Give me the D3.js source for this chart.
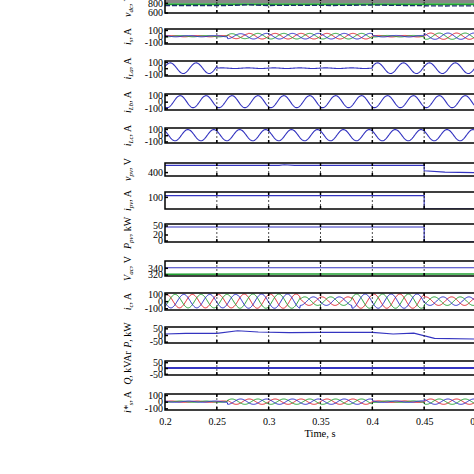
<!DOCTYPE html><html><head><meta charset="utf-8">
<script src="https://d3js.org/d3.v7.min.js"></script>
<style>body{margin:0;background:#fff}svg{font-family:"Liberation Serif",serif}</style></head><body>
<svg id="c" width="474" height="474"></svg>
<script>
// x axis
const xTicks=[0.2,0.25,0.3,0.35,0.4,0.45,0.5];
const xTickLabels=["0.2","0.25","0.3","0.35","0.4","0.45","0.5"];
// panels
const panelNames=["vdc","is","iLa","iLb","iLc","vpv","ipv","Ppv","Vac","ic","P","Q","istar"];
const panelLabels=[["v","dc",", V"],["i","s",", A"],["i","La",", A"],["i","Lb",", A"],["i","Lc",", A"],["v","pv",", V"],["i","pv",", A"],["P","pv",", kW"],["V","ac",", V"],["i","c",", A"],["P","",", kW"],["Q","",", kVAr"],["i*","s",", A"]];
const panelDomains=[[590,900],[-125,115],[-125,115],[-125,115],[-125,115],[370,470],[0,140],[-5,55],[316,360],[-125,115],[-60,60],[-60,60],[-125,115]];
const panelTicks=[[800,600],[100,0,-100],[100,0,-100],[100,0,-100],[100,0,-100],[400],[100],[50,20,0],[340,320],[100,0,-100],[50,0,-50],[50,0,-50],[100,0,-100]];
const panelTop=[-2,29,61,94,128,163,192,224,261,293,327,361,394];
const panelBot=[13,44,76,110,143,176,209,242,276,310,343,375,410];
// piecewise series [t, value]
const vdcGreen=[[0.2,770],[0.5,770]];
const vdcDash=[[0.2,745],[0.26,745],[0.28,760],[0.3,745],[0.33,750],[0.36,745],[0.4,755],[0.42,748],[0.45,740],[0.47,735],[0.5,738]];
const vpvLine=[[0.2,452],[0.31,452],[0.315,456],[0.325,452],[0.45,452],[0.45,410],[0.47,400],[0.5,396]];
const ipvLine=[[0.2,110],[0.45,110],[0.45,0],[0.5,0]];
const PpvLine=[[0.2,45],[0.45,45],[0.45,-5],[0.5,-5]];
const VacBlue=[[0.2,340],[0.5,340]];
const VacGreen=[[0.2,321],[0.3,322],[0.4,322],[0.5,322]];
const PLine=[[0.2,8],[0.22,12],[0.25,12],[0.27,32],[0.29,22],[0.32,18],[0.35,20],[0.4,20],[0.42,8],[0.44,14],[0.46,-25],[0.5,-30]];
const QLine=[[0.2,0],[0.5,0]];
// sinusoid amplitude segments [tStart, tEnd, amplitude] (~40 Hz)
const isAmp=[[0.2,0.26,10],[0.26,0.28,40],[0.28,0.4,45],[0.4,0.45,12],[0.45,0.5,50]];
const iLaAmp=[[0.2,0.25,85],[0.25,0.4,5],[0.4,0.5,85]];
const iLbAmp=[[0.2,0.5,90]];
const iLcAmp=[[0.2,0.5,90]];
const icAmp=[[0.2,0.27,95],[0.27,0.33,100],[0.33,0.38,60],[0.38,0.45,100],[0.45,0.5,60]];
const istarAmp=[[0.2,0.26,10],[0.26,0.4,40],[0.4,0.45,12],[0.45,0.5,40]];
const freq=40;
const phaseColors=["#e0202a","#20a030","#2828c8"];
const blue="#3434c0", green="#20a030";

const svg=d3.select("#c");
const x=d3.scaleLinear().domain([0.2,0.5]).range([165,476]);
const tt=d3.range(0.2,0.5001,0.0005);
function amp(segs,t){for(const s of segs) if(t>=s[0]&&t<=s[1]) return s[2]; return 0;}
function sinSeries(segs,ph){return tt.map(t=>[t,amp(segs,t)*Math.sin(2*Math.PI*freq*(t-0.2)+ph)]);}

svg.append("rect").attr("x",165).attr("y",0).attr("width",320).attr("height",3).attr("fill","#888");

panelNames.forEach((n,i)=>{
  const y=d3.scaleLinear().domain(panelDomains[i]).range([panelBot[i],panelTop[i]]);
  const g=svg.append("g");
  g.append("clipPath").attr("id","cl"+i).append("rect").attr("x",165).attr("y",panelTop[i]).attr("width",320).attr("height",panelBot[i]-panelTop[i]);
  const lg=g.append("g").attr("clip-path",`url(#cl${i})`);
  const line=d3.line().x(d=>x(d[0])).y(d=>y(d[1]));
  const add=(data,col,w,dash)=>lg.append("path").datum(data).attr("d",line).attr("fill","none").attr("stroke",col).attr("stroke-width",w||1.1).attr("stroke-dasharray",dash||null);
  const three=(segs,off)=>[0,1,2].forEach(k=>add(sinSeries(segs,off-k*2*Math.PI/3),phaseColors[k],1));
  if(n=="vdc"){add(vdcGreen,green,2);add(vdcDash,"#1a2a6a",1.3,"5,2");}
  if(n=="is") three(isAmp,0);
  if(n=="iLa") add(sinSeries(iLaAmp,0.3),blue);
  if(n=="iLb") add(sinSeries(iLbAmp,-2.1),blue);
  if(n=="iLc") add(sinSeries(iLcAmp,2.3),blue);
  if(n=="vpv") add(vpvLine,blue);
  if(n=="ipv") add(ipvLine,blue);
  if(n=="Ppv") add(PpvLine,blue);
  if(n=="Vac"){add(VacBlue,blue);add(VacGreen,green,1.6);}
  if(n=="ic") three(icAmp,1.2);
  if(n=="P") add(PLine,blue);
  if(n=="Q") add(QLine,blue,1.8);
  if(n=="istar") three(istarAmp,0);
  xTicks.slice(1,6).forEach(t=>{
    g.append("line").attr("x1",x(t)).attr("x2",x(t)).attr("y1",panelTop[i]).attr("y2",panelBot[i]).attr("stroke","#000").attr("stroke-width",0.7).attr("stroke-dasharray","2,2");
    g.append("line").attr("x1",x(t)).attr("x2",x(t)).attr("y1",panelTop[i]).attr("y2",panelTop[i]+3).attr("stroke","#000").attr("stroke-width",1.5);
    g.append("line").attr("x1",x(t)).attr("x2",x(t)).attr("y1",panelBot[i]).attr("y2",panelBot[i]-3).attr("stroke","#000").attr("stroke-width",1.5);
  });
  g.append("rect").attr("x",165).attr("y",panelTop[i]).attr("width",320).attr("height",panelBot[i]-panelTop[i]).attr("fill","none").attr("stroke","#000").attr("stroke-width",1.5);
  const ax=d3.axisLeft(y).tickValues(panelTicks[i]).tickFormat(d=>String(d)).tickSize(-3).tickPadding(2);
  const a=g.append("g").attr("transform","translate(165,0)").call(ax);
  a.select(".domain").remove();
  a.selectAll("line").attr("stroke-width",1.5);
  a.selectAll("text").attr("font-size",10).attr("font-family","Liberation Serif");
  const L=panelLabels[i];
  const yc=(panelTop[i]+panelBot[i])/2;
  const t=g.append("text").attr("transform",`translate(131,${yc}) rotate(-90)`).attr("text-anchor","middle").attr("font-size",10);
  t.append("tspan").attr("font-style","italic").text(L[0]);
  if(L[1]) t.append("tspan").attr("font-style","italic").attr("font-size",7).attr("dy",2).text(L[1]);
  t.append("tspan").attr("dy",L[1]?-2:0).text(L[2]);
});
const xa=svg.append("g").attr("transform","translate(0,410)").call(d3.axisBottom(x).tickValues(xTicks).tickFormat((d,i)=>xTickLabels[i]).tickSize(0).tickPadding(8));
xa.select(".domain").remove();
xa.selectAll("text").attr("font-size",10).attr("font-family","Liberation Serif");
svg.append("text").attr("x",320).attr("y",437).attr("text-anchor","middle").attr("font-size",10.5).text("Time, s");
</script></body></html>
